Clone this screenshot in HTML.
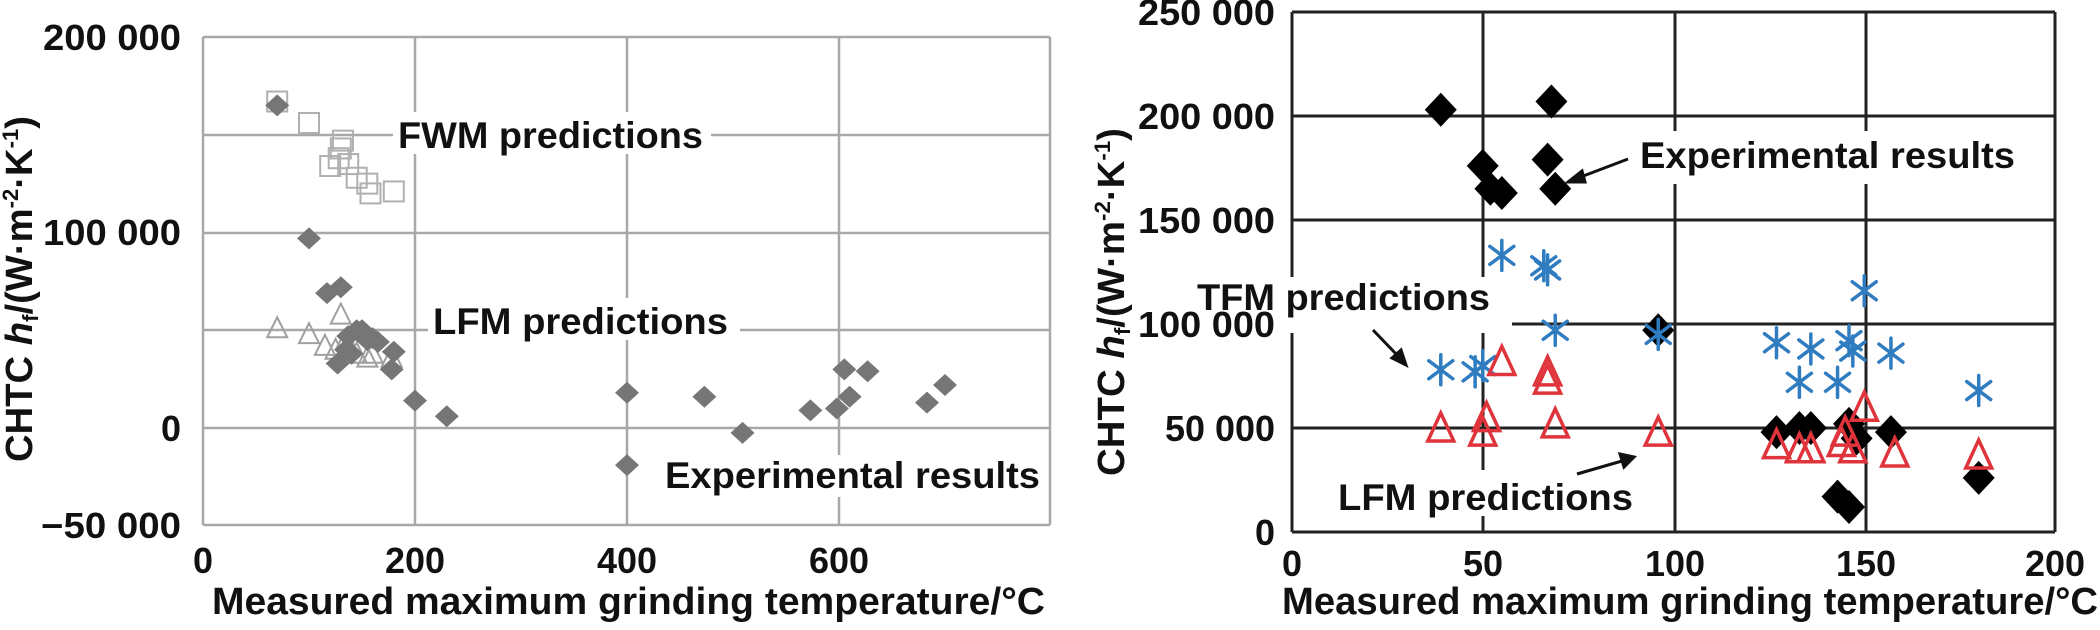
<!DOCTYPE html>
<html><head><meta charset="utf-8"><style>
html,body{margin:0;padding:0;background:#fff;}
svg{display:block;}
text{font-family:"Liberation Sans",Arial,sans-serif;font-weight:bold;fill:#111;}
</style></head><body>
<svg id="s" width="2100" height="630" viewBox="0 0 2100 630" xmlns="http://www.w3.org/2000/svg">
<g id="L">
  <!-- left gridlines -->
  <g stroke="#a8a8a8" stroke-width="2.5" fill="none">
    <line x1="203" y1="37" x2="203" y2="525"/>
    <line x1="415" y1="37" x2="415" y2="525"/>
    <line x1="627" y1="37" x2="627" y2="525"/>
    <line x1="839" y1="37" x2="839" y2="525"/>
    <line x1="1050" y1="37" x2="1050" y2="525"/>
    <line x1="203" y1="37" x2="1050" y2="37"/>
    <line x1="203" y1="135" x2="1050" y2="135"/>
    <line x1="203" y1="233" x2="1050" y2="233"/>
    <line x1="203" y1="330" x2="1050" y2="330"/>
    <line x1="203" y1="428" x2="1050" y2="428"/>
    <line x1="203" y1="525" x2="1050" y2="525"/>
  </g>
  <g id="Lpts"></g>
  <rect x="393" y="112" width="318" height="42" fill="#fff"/>
  <text x="398" y="148" font-size="37" textLength="305" lengthAdjust="spacingAndGlyphs">FWM predictions</text>
  <rect x="428" y="298" width="312" height="42" fill="#fff"/>
  <text x="433" y="334" font-size="37" textLength="295" lengthAdjust="spacingAndGlyphs">LFM predictions</text>
  <rect x="660" y="455" width="384" height="42" fill="#fff"/>
  <text x="665" y="488" font-size="37" textLength="375" lengthAdjust="spacingAndGlyphs">Experimental results</text>
  <!-- y ticks -->
  <g font-size="36" text-anchor="end">
    <text x="181" y="50" textLength="138" lengthAdjust="spacingAndGlyphs">200 000</text>
    <text x="181" y="245" textLength="138" lengthAdjust="spacingAndGlyphs">100 000</text>
    <text x="181" y="441">0</text>
    <text x="181" y="538" textLength="140" lengthAdjust="spacingAndGlyphs">−50 000</text>
  </g>
  <g font-size="36" text-anchor="middle">
    <text x="203" y="573">0</text>
    <text x="415" y="573">200</text>
    <text x="627" y="573">400</text>
    <text x="839" y="573">600</text>
  </g>
  <text x="212" y="614" font-size="38" textLength="833" lengthAdjust="spacingAndGlyphs">Measured maximum grinding temperature/°C</text>
  <text transform="translate(32,462) rotate(-90)" font-size="38" textLength="346" lengthAdjust="spacingAndGlyphs">CHTC <tspan font-style="italic">h</tspan><tspan font-size="22" dy="6">f</tspan><tspan dy="-6">/(W·m</tspan><tspan font-size="22" dy="-14">-2</tspan><tspan dy="14">·K</tspan><tspan font-size="22" dy="-14">-1</tspan><tspan dy="14">)</tspan></text>
</g>

<g id="R">
  <g stroke="#222" stroke-width="3" fill="none">
    <line x1="1292" y1="12" x2="2055" y2="12"/>
    <line x1="1292" y1="116" x2="2055" y2="116"/>
    <line x1="1292" y1="220" x2="2055" y2="220"/>
    <line x1="1512" y1="324" x2="2055" y2="324"/>
    <line x1="1292" y1="428" x2="2055" y2="428"/>
    <line x1="1292" y1="532" x2="2055" y2="532"/>
    <line x1="1292" y1="12" x2="1292" y2="532"/>
    <line x1="1483" y1="12" x2="1483" y2="532"/>
    <line x1="1675" y1="12" x2="1675" y2="532"/>
    <line x1="1866" y1="12" x2="1866" y2="532"/>
    <line x1="2055" y1="12" x2="2055" y2="532"/>
  </g>
  <rect x="1190" y="277" width="305" height="56" fill="#fff"/>
  <rect x="1636" y="131" width="385" height="53" fill="#fff"/>
  <rect x="1334" y="470" width="303" height="46" fill="#fff"/>
  <g id="Rpts"></g>
  <text x="1197" y="310" font-size="37" textLength="293" lengthAdjust="spacingAndGlyphs">TFM predictions</text>
  <text x="1640" y="168" font-size="37" textLength="375" lengthAdjust="spacingAndGlyphs">Experimental results</text>
  <text x="1338" y="510" font-size="37" textLength="295" lengthAdjust="spacingAndGlyphs">LFM predictions</text>
  <g stroke="#111" stroke-width="3" fill="#111">
    <line x1="1628" y1="159" x2="1578" y2="178"/>
    <polygon points="1568,182 1582,171 1585,182"/>
    <line x1="1373" y1="330" x2="1398" y2="356"/>
    <polygon points="1406,365 1392,358 1401,350"/>
    <line x1="1577" y1="474" x2="1622" y2="461"/>
    <polygon points="1634,457 1620,454 1624,467"/>
  </g>
  <g font-size="36" text-anchor="end">
    <text x="1275" y="25" textLength="137" lengthAdjust="spacingAndGlyphs">250 000</text>
    <text x="1275" y="129" textLength="137" lengthAdjust="spacingAndGlyphs">200 000</text>
    <text x="1275" y="233" textLength="137" lengthAdjust="spacingAndGlyphs">150 000</text>
    <text x="1275" y="337" textLength="137" lengthAdjust="spacingAndGlyphs">100 000</text>
    <text x="1275" y="441" textLength="110" lengthAdjust="spacingAndGlyphs">50 000</text>
    <text x="1275" y="545">0</text>
  </g>
  <g font-size="36" text-anchor="middle">
    <text x="1292" y="576">0</text>
    <text x="1483" y="576">50</text>
    <text x="1675" y="576">100</text>
    <text x="1866" y="576">150</text>
    <text x="2055" y="576">200</text>
  </g>
  <text x="1282" y="614" font-size="38" textLength="816" lengthAdjust="spacingAndGlyphs">Measured maximum grinding temperature/°C</text>
  <text transform="translate(1124,476) rotate(-90)" font-size="38" textLength="348" lengthAdjust="spacingAndGlyphs">CHTC <tspan font-style="italic">h</tspan><tspan font-size="22" dy="6">f</tspan><tspan dy="-6">/(W·m</tspan><tspan font-size="22" dy="-14">-2</tspan><tspan dy="14">·K</tspan><tspan font-size="22" dy="-14">-1</tspan><tspan dy="14">)</tspan></text>
</g>
</svg>
<script>
var NS="http://www.w3.org/2000/svg";
function el(p,t,a){var e=document.createElementNS(NS,t);for(var k in a)e.setAttribute(k,a[k]);p.appendChild(e);return e;}
var Lp=document.getElementById("Lpts"),Rp=document.getElementById("Rpts");
function lx(T){return 203+T*1.06;} function ly(h){return 428-h*1.955;}
function rx(T){return 1292+T*3.815;} function ry(h){return 532-h*2.08;}
// left squares
[[70,167],[100,156],[120,134],[128,138],[130,143],[132,147],[137,135],[145,128],[155,125],[158,120],[180,121]].forEach(function(p){
 el(Lp,"rect",{x:lx(p[0])-10,y:ly(p[1])-10,width:20,height:20,fill:"none",stroke:"#b0b0b0","stroke-width":2});});
// left triangles
[[70,51],[100,48],[115,42],[125,40],[130,58],[135,45],[145,38],[155,36],[160,38],[178,36]].forEach(function(p){
 var x=lx(p[0]),y=ly(p[1]);el(Lp,"polygon",{points:(x-10)+","+(y+9)+" "+(x+10)+","+(y+9)+" "+x+","+(y-11),fill:"none",stroke:"#a0a0a0","stroke-width":2});});
// left diamonds
[[70,165],[100,97],[117,69],[130,72],[127,33],[135,40],[140,38],[137,47],[145,50],[150,50],[155,45],[160,46],[165,44],[180,39],[178,30],[200,14],[230,6],[400,18],[400,-19],[473,16],[509,-2.5],[573,9],[598,10],[610,16],[605,30],[627,29],[683,13],[700,22]].forEach(function(p){
 var x=lx(p[0]),y=ly(p[1]);el(Lp,"polygon",{points:(x-12)+","+y+" "+x+","+(y-11)+" "+(x+12)+","+y+" "+x+","+(y+11),fill:"#767676"});});
// right diamonds
[[39,203],[68,207],[50,176],[52,165],[55,163],[67,179],[69,165],[96,97],[127,48],[133,50],[136,50],[146,52],[148,45],[157,48],[143,17],[146,12],[180,26]].forEach(function(p){
 var x=rx(p[0]),y=ry(p[1]);el(Rp,"polygon",{points:(x-16)+","+y+" "+x+","+(y-17)+" "+(x+16)+","+y+" "+x+","+(y+17),fill:"#000"});});
// right asterisks
[[39,78],[48,77],[50,80],[55,133],[66,128],[67,126],[69,97],[96,95],[127,91],[133,72],[136,88],[143,72],[146,92],[147,87],[150,116],[157,86],[180,68]].forEach(function(p){
 var x=rx(p[0]),y=ry(p[1]);var g=el(Rp,"g",{stroke:"#2f7cc0","stroke-width":3.5,"stroke-linecap":"round"});
 el(g,"line",{x1:x,y1:y-15,x2:x,y2:y+15});el(g,"line",{x1:x-12,y1:y-9,x2:x+12,y2:y+9});el(g,"line",{x1:x-12,y1:y+9,x2:x+12,y2:y-9});});
// right triangles
[[39,50],[50,48],[51,55],[55,82],[67,73],[67,77],[69,52],[96,48],[127,42],[133,40],[136,40],[144,43],[145,48],[147,40],[150,60],[158,38],[180,37]].forEach(function(p){
 var x=rx(p[0]),y=ry(p[1]);el(Rp,"polygon",{points:(x-13)+","+(y+13)+" "+(x+13)+","+(y+13)+" "+x+","+(y-15),fill:"none",stroke:"#e0343c","stroke-width":3.5});});
</script>
</body></html>
